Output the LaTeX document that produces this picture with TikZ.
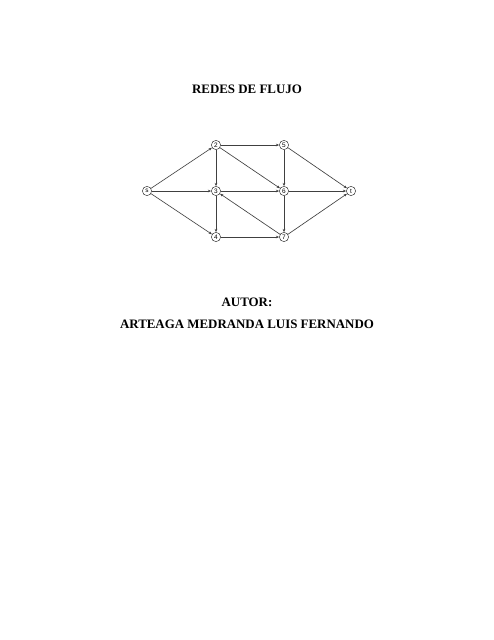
\documentclass[tikz,border=0pt]{standalone}
\usepackage{fontspec}
\setmainfont{Liberation Serif}
\newfontfamily\nodefont{Liberation Sans}
\usetikzlibrary{arrows.meta}
\begin{document}
\begin{tikzpicture}[x=1.239pt,y=-1.239pt,
  vtx/.style={circle,draw=black!80,line width=0.6pt,inner sep=0pt,minimum size=11.5pt,font=\nodefont\fontsize{8}{9}\selectfont},
  arc/.style={draw=black!75,line width=0.8pt,-{Stealth[length=4pt,width=3.2pt]}},
  ttl/.style={font=\bfseries\fontsize{16}{18}\selectfont}]
\useasboundingbox (0,0) rectangle (494,640);
\fill[white] (0,0) rectangle (494,640);
\node[ttl] (title) at (247,89) {REDES DE FLUJO};
\node[ttl] (autor) at (247,302) {AUTOR:};
\node[ttl] (name) at (247,324) {ARTEAGA MEDRANDA LUIS FERNANDO};
\node[vtx] (s) at (147,191) {s};
\node[vtx] (n2) at (216,145) {2};
\node[vtx] (n5) at (284,145) {5};
\node[vtx] (n3) at (216,191) {3};
\node[vtx] (n6) at (284,191) {6};
\node[vtx] (t) at (351,191) {t};
\node[vtx] (n4) at (216,237) {4};
\node[vtx] (n7) at (284,237) {7};
\foreach \a/\b in {s/n2,s/n3,s/n4,n2/n5,n2/n3,n2/n6,n5/n6,n5/t,n3/n6,n3/n4,n6/t,n6/n7,n4/n7,n7/n3,n7/t}
  \draw[arc] (\a) -- (\b);
\end{tikzpicture}
\end{document}
